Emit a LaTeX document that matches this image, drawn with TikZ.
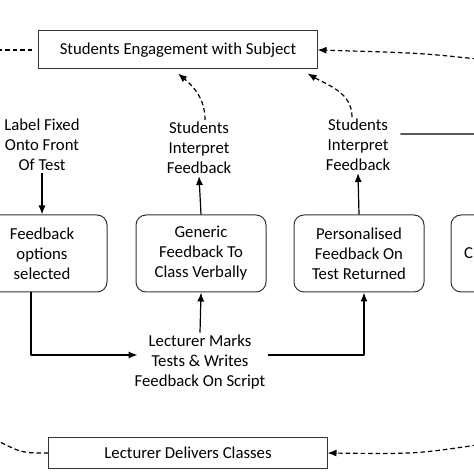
\documentclass[tikz,border=0pt]{standalone}
\usepackage{fontspec}
\setmainfont{Carlito}
\usetikzlibrary{arrows.meta}
\tikzset{
  plainbox/.style={draw=black!80, line width=1bp, minimum width=278bp, inner sep=0pt},
  roundbox/.style={draw=black!80, line width=1bp, rounded corners=10bp, minimum width=130bp, minimum height=77bp, align=center, inner sep=0pt},
  txt/.style={align=center, inner sep=2bp},
  dashline/.style={line width=1.2bp, dash pattern=on 4.5bp off 3bp},
  solidline/.style={line width=1.2bp},
}
\begin{document}
\begin{tikzpicture}[>={Latex[length=9bp,width=7bp]},line join=bevel,x=1bp,y=1bp,
  font=\fontsize{16.8}{20}\selectfont]
\clip (0,0) rectangle (474,474);
\useasboundingbox (0,0) rectangle (474,474);
%%
  % Node: engage
  \node[plainbox, minimum height=38bp] (engage) at (178,424) {Students Engagement with Subject};
  % Node: lecturer
  \node[plainbox, minimum height=30bp] (lecturer) at (188,21) {Lecturer Delivers Classes};
  % Node: labelfix
  \node[txt] (labelfix) at (42,329) {Label Fixed\\Onto Front\\Of Test};
  % Node: interp1
  \node[txt] (interp1) at (199,326) {Students\\Interpret\\Feedback};
  % Node: interp2
  \node[txt] (interp2) at (358,329) {Students\\Interpret\\Feedback};
  % Node: options
  \node[roundbox] (options) at (42,220.5) {Feedback\\options\\selected};
  % Node: generic
  \node[roundbox] (generic) at (201,220.5) {Generic\\Feedback To\\Class Verbally};
  % Node: personal
  \node[roundbox] (personal) at (359,220.5) {Personalised\\Feedback On\\Test Returned};
  % Node: fourth
  \node[roundbox] (fourth) at (516,220.5) {};
  \node[txt, anchor=west] (fourthtxt) at (462,220.5) {C};
  % Node: marks
  \node[txt] (marks) at (200,112) {Lecturer Marks\\Tests \& Writes\\Feedback On Script};
  % Free ends
  \coordinate (ltop) at (-2,424);
  \coordinate (rtop) at (477,415);
  \coordinate (rline) at (477,340);
  \coordinate (lbot) at (-2,33);
  \coordinate (rbot) at (477,29);
%%
  % Edge: labelfix -> options
  \draw[solidline, ->] (labelfix.south) -- (options.north);
  % Edge: generic -> interp1
  \draw[solidline, ->] (generic.north) -- (interp1.south);
  % Edge: personal -> interp2
  \draw[solidline, ->] (personal.north) -- (interp2.south);
  % Edge: interp1 -> engage
  \draw[dashline, ->] ([xshift=6bp]interp1.north) to[out=90,in=-40] ([yshift=-4bp]engage.south);
  % Edge: interp2 -> engage
  \draw[dashline, ->] ([xshift=-6bp]interp2.north) to[out=90,in=-30] ([xshift=-10bp,yshift=-4bp]engage.south east);
  % Edge: rtop -> engage
  \draw[dashline, ->] (rtop) .. controls (420,421) .. (engage.east);
  % Edge: engage -> ltop
  \draw[dashline, shorten <=6bp] (engage.west) -- (ltop);
  % Edge: interp2 -> rline
  \draw[solidline] ([xshift=8bp,yshift=11bp]interp2.east) -- (rline);
  % Edge: options -> marks
  \draw[solidline, ->] ([xshift=-11bp]options.south) |- ([xshift=5bp,yshift=7bp]marks.west);
  % Edge: marks -> generic
  \draw[solidline, ->] (marks.north) -- (generic.south);
  % Edge: marks -> personal
  \draw[solidline, ->] ([yshift=7bp]marks.east) -| ([xshift=5bp]personal.south);
  % Edge: lecturer -> lbot
  \draw[dashline] (lecturer.west) .. controls (22,21) .. (lbot);
  % Edge: rbot -> lecturer
  \draw[dashline, ->] (rbot) .. controls (415,20) .. (lecturer.east);
%
\end{tikzpicture}
\end{document}
